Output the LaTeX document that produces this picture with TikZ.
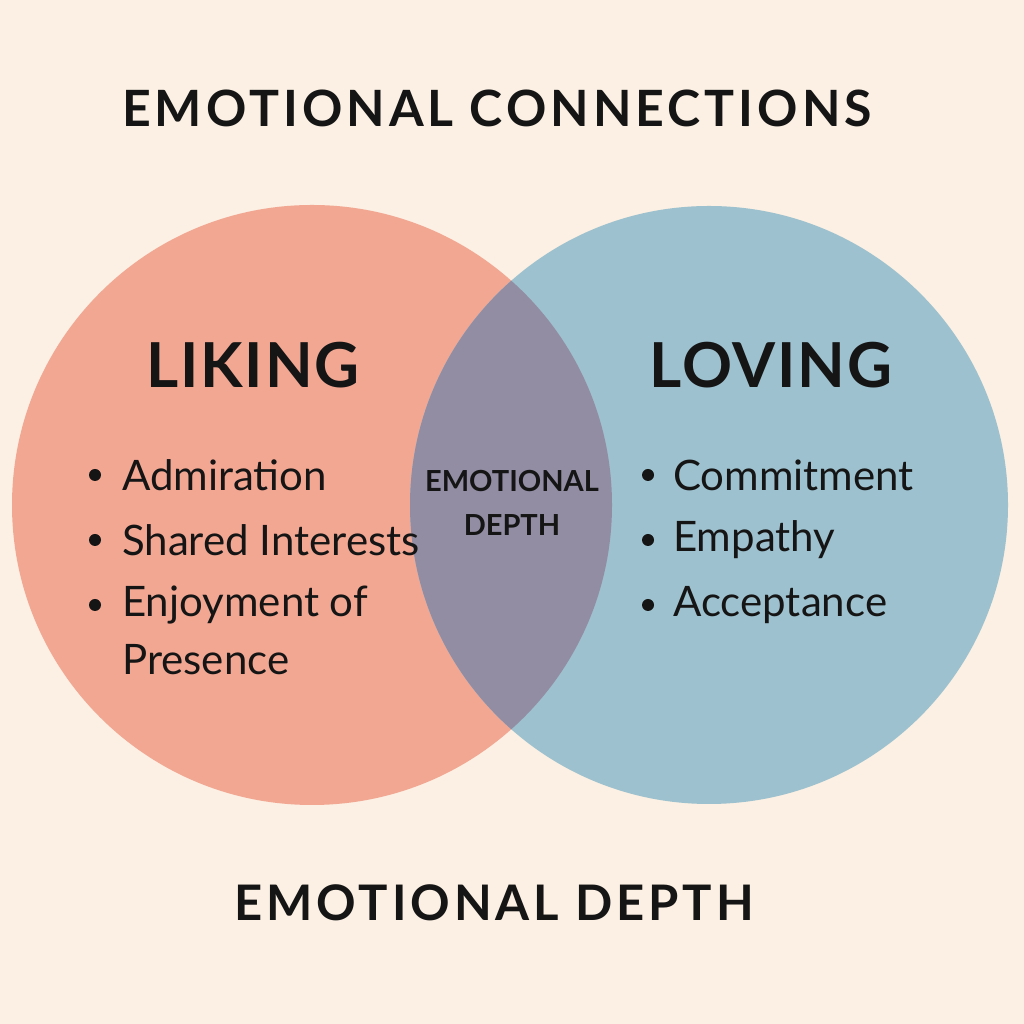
\documentclass[tikz,border=0pt]{standalone}
\usepackage{fontspec}
\setmainfont{Lato}
\newfontfamily\titlefont[LetterSpace=8]{Lato Bold}
\newfontfamily\headfont[LetterSpace=3]{Lato Bold}
\definecolor{bgc}{HTML}{FBF0E3}
\definecolor{likec}{HTML}{F2A793}
\definecolor{lovec}{HTML}{9DC1CE}
\definecolor{bothc}{HTML}{928DA3}
\definecolor{inkc}{HTML}{151515}
\tikzset{
  txt/.style={text=inkc, inner sep=0pt},
  item/.style={txt, anchor=west, font=\fontsize{42}{46}\selectfont},
  dotc/.style={fill=inkc, draw=none}
}
\begin{document}
\begin{tikzpicture}[x=1pt,y=1pt]
\fill[bgc] (0,0) rectangle (1024,1024);
\useasboundingbox (0,0) rectangle (1024,1024);
\fill[likec] (312,519) circle (300);
\fill[lovec] (709,519) circle (299);
\begin{scope}
\clip (312,519) circle (300);
\fill[bothc] (709,519) circle (299);
\end{scope}
\node[txt, font=\titlefont\fontsize{50}{54}\selectfont] (title) at (497,916) {EMOTIONAL CONNECTIONS};
\node[txt, font=\headfont\fontsize{62}{66}\selectfont] (liking) at (253,659) {LIKING};
\node[txt, font=\headfont\fontsize{62}{66}\selectfont] (loving) at (771,659) {LOVING};
\node[txt, align=center, font=\bfseries\fontsize{29}{44}\selectfont] (mid) at (512,521) {EMOTIONAL\\DEPTH};
\node[txt, font=\titlefont\fontsize{49}{52}\selectfont] (bottom) at (494,121) {EMOTIONAL DEPTH};
% left list
\fill[dotc] (95,549) circle (6);
\node[item] (l1) at (122,549) {Admiration};
\fill[dotc] (95,484) circle (6);
\node[item] (l2) at (122,484) {Shared Interests};
\fill[dotc] (95,419) circle (6);
\node[item] (l3) at (122,419) {Enjoyment of};
\node[item] (l4) at (122,364) {Presence};
% right list
\fill[dotc] (648,549) circle (6);
\node[item] (r1) at (673,549) {Commitment};
\fill[dotc] (648,484) circle (6);
\node[item] (r2) at (673,484) {Empathy};
\fill[dotc] (648,419) circle (6);
\node[item] (r3) at (673,419) {Acceptance};
\end{tikzpicture}
\end{document}
